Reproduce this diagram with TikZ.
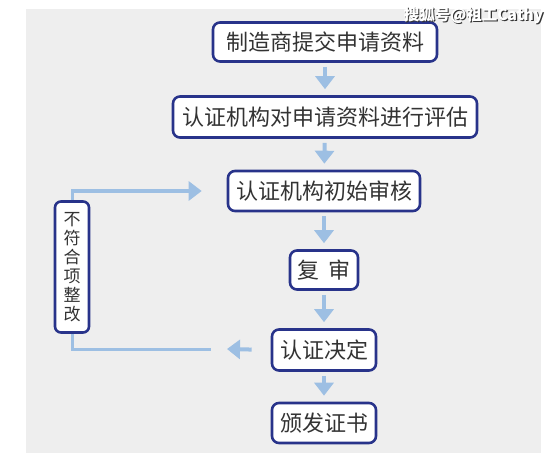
\documentclass[tikz,border=0pt]{standalone}
\usepackage{fontspec}
\setmainfont{Noto Sans CJK SC}
\usetikzlibrary{arrows.meta}
\definecolor{navy}{HTML}{28338A}
\definecolor{flowblue}{HTML}{9DBFE3}
\definecolor{bggray}{HTML}{EEEEEE}
\definecolor{txtgray}{HTML}{333333}
\tikzset{
  box/.style={draw=navy, line width=2.6pt, rounded corners=7pt, fill=white,
    inner sep=0pt, text=txtgray, font=\fontsize{22}{26}\selectfont},
  flowarrow/.style={draw=flowblue, line width=4pt,
    -{Triangle[width=19pt,length=13pt]}, shorten <=4pt, shorten >=6pt},
  flowline/.style={draw=flowblue, line width=4pt}
}
\begin{document}
\begin{tikzpicture}[x=1pt,y=-1pt]

	\useasboundingbox (0,0) rectangle (559,465);
	\fill[bggray] (26,9) rectangle (541,453);

	% main steps
	\node[box, minimum width=224pt, minimum height=39pt] (b1) at (325,42) {制造商提交申请资料};
	\node[box, minimum width=304pt, minimum height=41pt] (b2) at (325,117) {认证机构对申请资料进行评估};
	\node[box, minimum width=192pt, minimum height=40pt] (b3) at (324,191) {认证机构初始审核};
	\node[box, minimum width=68pt, minimum height=39pt] (b4) at (324,270) {复\hspace{0.4em}审};
	\node[box, minimum width=104pt, minimum height=41pt] (b5) at (324,350) {认证决定};
	\node[box, minimum width=104pt, minimum height=40pt] (b6) at (324,423) {颁发证书};

	% side box
	\node[box, rounded corners=6pt, minimum width=34pt, minimum height=131pt, align=center,
		font=\fontsize{17}{19}\selectfont] (side) at (72,267) {不\\符\\合\\项\\整\\改};

	\draw[flowarrow] (b1) -- (b2);
	\draw[flowarrow] (b2) -- (b3);
	\draw[flowarrow] (b3) -- (b4);
	\draw[flowarrow] (b4) -- (b5);
	\draw[flowarrow] (b5) -- (b6);

	% loop back
	\coordinate (gap) at (211,349);
	\coordinate (backtip) at (227,349);
	\draw[flowline, line width=3pt] (side.south) |- (gap);
	\draw[flowarrow, shorten <=19pt, shorten >=0pt] (b5.west) -- (backtip);
	\draw[flowarrow, line width=3pt, shorten <=0pt, shorten >=25pt] (side.north) |- (b3.west);

	% watermark
	\node[text=black!80, font=\fontsize{15.5}{18}\selectfont\bfseries] (mark) at (474.7,16.7) {搜狐号@祖工Cathy};
	\node[text=white, font=\fontsize{15.5}{18}\selectfont\bfseries] at (473.5,15.5) {搜狐号@祖工Cathy};

\end{tikzpicture}
\end{document}
